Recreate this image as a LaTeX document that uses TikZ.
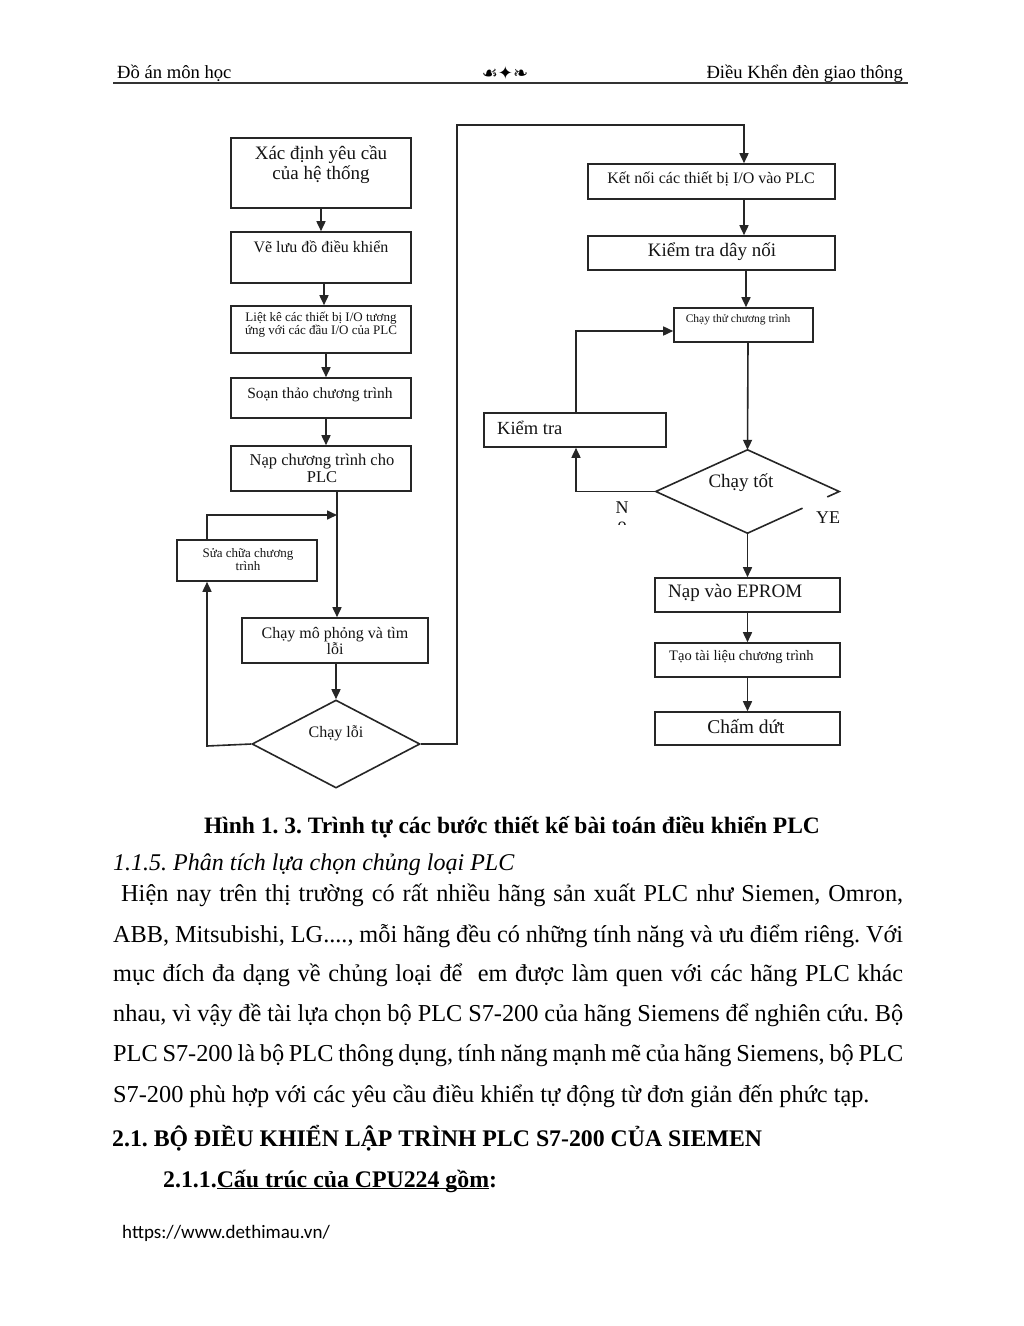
\documentclass[tikz,border=0pt]{standalone}
\usepackage{fontspec}
\setmainfont{Liberation Serif}
\newfontfamily\orfont{DejaVu Sans}
\newfontfamily\urlfont{Carlito}
\usetikzlibrary{arrows.meta,shapes.geometric,calc}
\newcommand\fsz[2]{\fontsize{#1}{#2}\selectfont}
\begin{document}
\frenchspacing
\begin{tikzpicture}[x=1pt,y=-1pt,
  box/.style={draw=black!85, line width=1.6pt, inner sep=0pt},
  dia/.style={diamond, draw=black!85, line width=1.6pt, inner sep=0pt},
  lbl/.style={inner sep=0pt, align=center, text=black!92},
  ln/.style={draw=black!85, line width=1.6pt},
  arr/.style={ln, -{Triangle[length=10pt,width=9pt]}},
  body/.style={inner sep=0pt, anchor=base west, font=\fsz{24.3}{28}},
  bodyc/.style={inner sep=0pt, anchor=base, font=\fsz{24.3}{28}}]
\useasboundingbox[fill=white] (0,0) rectangle (1024,1326);

% header
\node[body, font=\fsz{18.6}{20}] (hl) at (117,78) {Đồ án môn học};
\node[inner sep=0pt, anchor=base east, font=\fsz{18.6}{20}] (hr) at (903,78) {Điều Khển đèn giao thông};
\node[inner sep=0pt, font=\orfont\fsz{18}{20}] (orn) at (505,73) {☙✦❧};
\draw[line width=1.6pt, black!80] (113,83) -- (908,83);

% left column boxes
\node[box, minimum width=180, minimum height=70] (b1) at (321,173) {};
\node[box, minimum width=180, minimum height=51] (b2) at (321,257.5) {};
\node[box, minimum width=180, minimum height=47] (b3) at (321,329.5) {};
\node[box, minimum width=180, minimum height=40] (b4) at (321,398) {};
\node[box, minimum width=180, minimum height=45] (b5) at (321,468.5) {};
\node[box, minimum width=140, minimum height=41] (sua) at (247,560.5) {};
\node[box, minimum width=186, minimum height=45] (mp) at (335,640.5) {};
\node[dia, minimum width=168, minimum height=88] (d1) at (336,744) {};

% right column boxes
\node[box, minimum width=247, minimum height=35] (k1) at (711.5,181.5) {};
\node[box, minimum width=247, minimum height=34] (k2) at (711.5,253) {};
\node[box, minimum width=139, minimum height=34] (ct) at (743.5,325) {};
\node[box, minimum width=182, minimum height=34] (kt) at (575,430) {};
\node[diamond, inner sep=0pt, minimum width=183, minimum height=83] (d2) at (747.5,491.5) {};
\node[box, minimum width=185, minimum height=34] (e1) at (747.5,595) {};
\node[box, minimum width=185, minimum height=34] (e2) at (747.5,660) {};
\node[box, minimum width=185, minimum height=33] (e3) at (747.5,728.5) {};

% broken diamond outline
\draw[ln, line join=miter] ($(d2.east)!0.13!(d2.south)$) -- (d2.east) -- (d2.north) -- (d2.west) -- (d2.south) -- ($(d2.east)!0.40!(d2.south)$);

% labels
\node[lbl, font=\fsz{19}{20}] (t1) at (321,165) {Xác định yêu cầu\\của hệ thống};
\node[lbl, font=\fsz{16}{18}] (t2) at (321,247) {Vẽ lưu đồ điều khiển};
\node[lbl, font=\fsz{13}{13}] (t3) at (321,324.5) {Liệt kê các thiết bị I/O tương\\ứng với các đầu I/O của PLC};
\node[lbl, font=\fsz{15.5}{17}] (t4) at (320,395) {Soạn thảo chương trình};
\node[lbl, font=\fsz{16.5}{17}] (t5) at (322,468.5) {Nạp chương trình cho\\PLC};
\node[lbl, font=\fsz{13}{13}] (t6) at (248,559.5) {Sửa chữa chương\\trình};
\node[lbl, font=\fsz{16}{16}] (t7) at (335,641) {Chạy mô phỏng và tìm\\lỗi};
\node[lbl, font=\fsz{16}{18}] (t8) at (336,733) {Chạy lỗi};
\node[lbl, font=\fsz{16}{18}] (t9) at (711,179) {Kết nối các thiết bị I/O vào PLC};
\node[lbl, font=\fsz{19}{20}] (t10) at (712,252) {Kiểm tra dây nối};
\node[lbl, font=\fsz{11.5}{13}] (t11) at (738,320) {Chạy thử chương trình};
\node[lbl, font=\fsz{18.5}{20}, anchor=west] (t12) at (497,428) {Kiểm tra};
\node[lbl, font=\fsz{19}{20}] (t13) at (741,483) {Chạy tốt};
\node[lbl, font=\fsz{18}{20}] (t14) at (622,508) {N};
\begin{scope}
\clip (610,520) rectangle (634,524.5);
\node[lbl, font=\fsz{18}{20}] (t14b) at (622,526.5) {o};
\end{scope}
\node[lbl, font=\fsz{18}{20}] (t15) at (828,518) {YE};
\node[lbl, font=\fsz{19}{20}, anchor=west] (t16) at (668,593) {Nạp vào EPROM};
\node[lbl, font=\fsz{14.5}{16}, anchor=west] (t17) at (669,657) {Tạo tài liệu chương trình};
\node[lbl, font=\fsz{19.5}{20}] (t18) at (746,727) {Chấm dứt};

% connectors left
\draw[arr] (b1) -- (b2);
\draw[arr] (324,0 |- b2.south) -- (324,0 |- b3.north);
\draw[arr] (326,0 |- b3.south) -- (326,0 |- b4.north);
\draw[arr] (326,0 |- b4.south) -- (326,0 |- b5.north);
\draw[arr] (337,0 |- b5.south) -- (337,0 |- mp.north);
\draw[arr] (d1.north |- mp.south) -- (d1.north);
\coordinate (lc) at (207,746);
\coordinate (j1) at (337,515);
\draw[arr] (d1.west) -- (lc) -- (lc |- sua.south);
\draw[arr] (lc |- sua.north) -- (lc |- j1) -- (j1);
% connectors right
\coordinate (rc) at (457,125);
\draw[arr] (d1.east) -- (rc |- d1.east) -- (rc) -- (744,125) -- (744,0 |- k1.north);
\draw[arr] (744,0 |- k1.south) -- (744,0 |- k2.north);
\draw[arr] (746,0 |- k2.south) -- (746,0 |- ct.north);
\coordinate (kc) at (576,331);
\draw[arr] (kc |- kt.north) -- (kc) -- (kc -| ct.west);
\draw[arr] (748,0 |- ct.south) -- (d2.north);
\draw[arr] (d2.west) -- (kc |- d2.west) -- (kc |- kt.south);
\draw[arr] (d2.south) -- (d2.south |- e1.north);
\draw[arr] (e1) -- (e2);
\draw[arr] (e2) -- (e3);

% caption and text
\node[bodyc, font=\bfseries\fsz{23.5}{28}] (cap) at (512,833) {Hình 1. 3. Trình tự các bước thiết kế bài toán điều khiển PLC};
\node[body, font=\itshape\fsz{24}{28}] (sub) at (113,870) {1.1.5. Phân tích lựa chọn chủng loại PLC};
\node[body] (p1) at (121,901) {\makebox[782pt][s]{Hiện nay trên thị trường có rất nhiều hãng sản xuất PLC như Siemen, Omron,}};
\node[body] (p2) at (113,942) {\makebox[790pt][s]{ABB, Mitsubishi, LG...., mỗi hãng đều có những tính năng và ưu điểm riêng. Với}};
\node[body] (p3) at (113,981) {\makebox[790pt][s]{mục đích đa dạng về chủng loại để\ \ em được làm quen với các hãng PLC khác}};
\node[body] (p4) at (113,1021) {\makebox[790pt][s]{nhau, vì vậy đề tài lựa chọn bộ PLC S7-200 của hãng Siemens để nghiên cứu. Bộ}};
\node[body] (p5) at (113,1061) {\makebox[790pt][s]{PLC S7-200 là bộ PLC thông dụng, tính năng mạnh mẽ của hãng Siemens, bộ PLC}};
\node[body] (p6) at (113,1102) {S7-200 phù hợp với các yêu cầu điều khiển tự động từ đơn giản đến phức tạp.};
\node[body, font=\bfseries\fsz{23.8}{28}] (h1) at (112,1146) {2.1. BỘ ĐIỀU KHIỂN LẬP TRÌNH PLC S7-200 CỦA SIEMEN};
\node[body, font=\bfseries\fsz{23.8}{28}] (h2) at (163,1187) {2.1.1.\underline{\raisebox{0pt}[\height][0pt]{Cấu trúc của CPU224 gồm}}:};
\node[body, font=\urlfont\fsz{19}{22}] (url) at (122,1238) {https://www.dethimau.vn/};
\end{tikzpicture}
\end{document}
